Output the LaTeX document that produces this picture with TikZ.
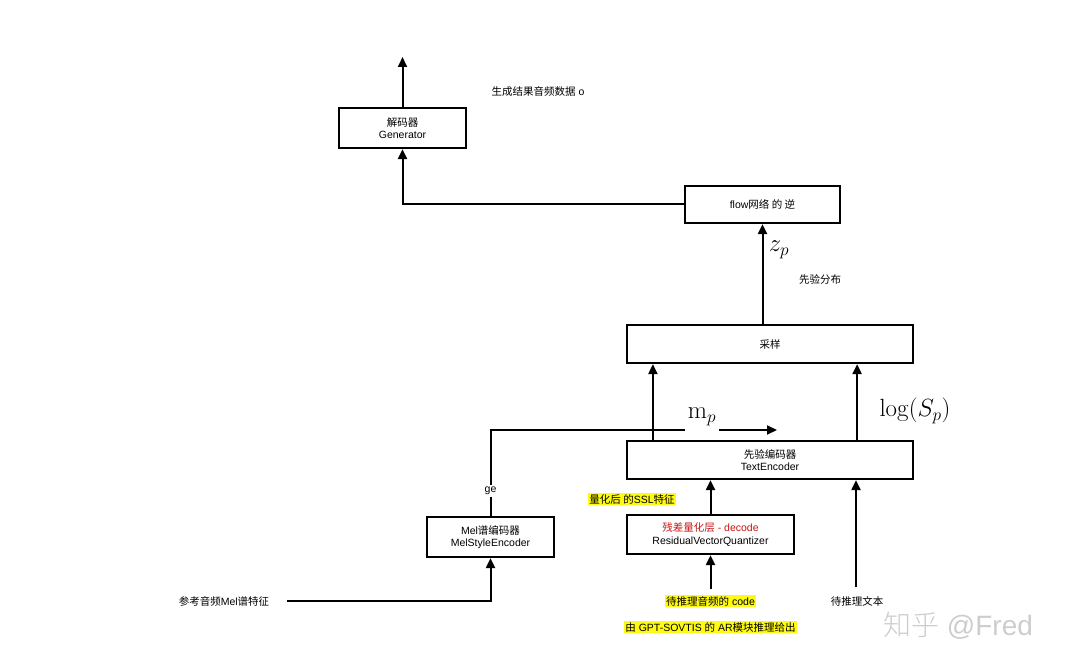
\documentclass[tikz,border=0pt]{standalone}
\usepackage[no-math]{fontspec}
\setmainfont{Liberation Sans}
\newfontfamily\cjk{Noto Sans CJK SC}
\newfontfamily\cjkl{Noto Sans CJK SC Light}
\usetikzlibrary{arrows.meta,calc}
\definecolor{hlyellow}{RGB}{255,250,20}
\definecolor{darkred}{RGB}{200,20,20}
\definecolor{wm}{RGB}{205,205,205}
\tikzset{
  box/.style={draw, line width=2.2pt, align=center, inner sep=0pt, font=\fontsize{10.5}{12.5}\selectfont},
  arr/.style={line width=2pt, -{Triangle[length=10pt,width=9pt]}},
  lab/.style={font=\fontsize{10.5}{12.5}\selectfont, inner sep=1pt},
  hl/.style={lab, fill=hlyellow},
  mathlab/.style={font=\fontsize{24}{28}\selectfont, inner sep=1pt}
}
\begin{document}
\begin{tikzpicture}[x=1pt,y=-1pt]
\useasboundingbox (0,0) rectangle (1073,671);
% boxes
\node[box, minimum width=127pt, minimum height=40pt] (gen) at (402.5,128) {{\cjk 解码器}\\Generator};
\node[box, minimum width=155pt, minimum height=37pt] (flow) at (762.5,204.5) {flow{\cjk 网络 的 逆}};
\node[box, minimum width=286pt, minimum height=38pt] (samp) at (770,344) {\cjk 采样};
\node[box, minimum width=286pt, minimum height=38pt] (tenc) at (770,460) {{\cjk 先验编码器}\\TextEncoder};
\node[box, minimum width=127pt, minimum height=40pt] (mel) at (490.5,537) {Mel{\cjk 谱编码器}\\MelStyleEncoder};
\node[box, minimum width=167pt, minimum height=39pt] (rvq) at (710.5,534.5) {\textcolor{darkred}{{\cjk 残差量化层} - decode}\\ResidualVectorQuantizer};
% free ends
\coordinate (out) at (402.5,57);
\coordinate (mpend) at (777,430);
\coordinate (refstart) at (287,601);
\coordinate (codestart) at (710.5,589);
\coordinate (textstart) at (856,587);
% connectors
\draw[arr] (gen.north) -- (out);
\draw[arr] (flow.west) -| (gen.south);
\draw[arr] (flow.south |- samp.north) -- (flow.south);
\draw[arr] ([xshift=27pt]tenc.north west) -- ([xshift=27pt]samp.south west);
\draw[arr] ([xshift=-57pt]tenc.north east) -- ([xshift=-57pt]samp.south east);
\draw[arr] (mel.north) -- (mel.north |- mpend) -- (mpend);
\draw[arr] (refstart) -| (mel.south);
\draw[arr] (rvq.north) -- (rvq.north |- tenc.south);
\draw[arr] (codestart) -- (rvq.south);
\draw[arr] (textstart) -- (textstart |- tenc.south);
% labels
\node[lab] (lout) at (538,92) {{\cjk 生成结果音频数据} o};
\node[mathlab] (lzp) at (779,250) {$z_p$};
\node[lab] (lprior) at (820,279) {\cjk 先验分布};
\node[mathlab, fill=white, inner xsep=3pt, minimum height=31pt] (lmp) at (702,417) {$\mathrm{m}_p$};
\node[mathlab] (llog) at (915,411) {$\log(S_p)$};
\node[lab, fill=white, inner sep=2pt] (lge) at (490.5,491) {ge};
\node[hl] (lssl) at (632,499) {{\cjk 量化后 的}SSL{\cjk 特征}};
\node[hl] (lcode) at (710.5,601) {{\cjk 待推理音频的} code};
\node[hl] (lgpt) at (710.5,627) {{\cjk 由} GPT-SOVTIS {\cjk 的} AR{\cjk 模块推理给出}};
\node[lab] (ltext) at (857,601) {\cjk 待推理文本};
\node[lab] (lref) at (224,601) {{\cjk 参考音频}Mel{\cjk 谱特征}};
\node[font=\fontsize{28}{32}\selectfont, text=wm, inner sep=0pt] (wmk) at (958,626) {{\cjkl 知乎} @Fred};
\end{tikzpicture}
\end{document}
